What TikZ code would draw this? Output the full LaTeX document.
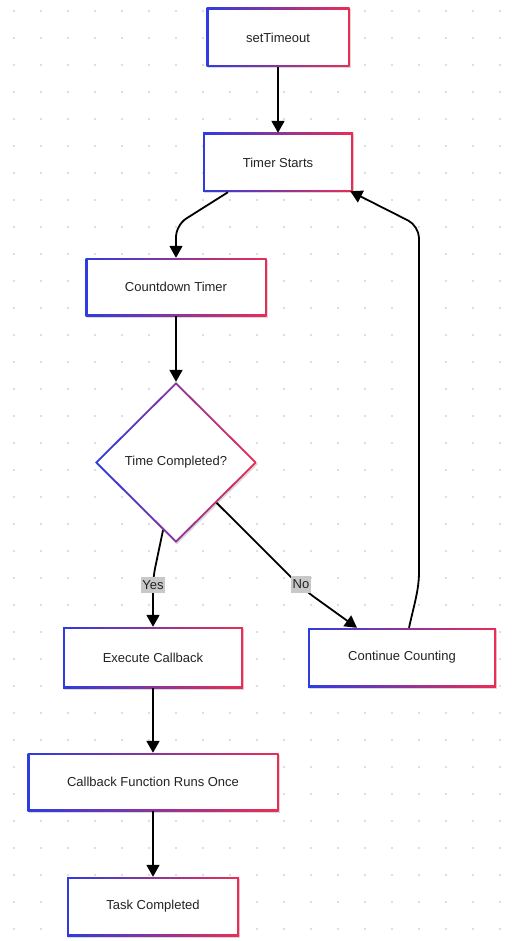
\documentclass[tikz,border=0pt]{standalone}
\usepackage{fontspec}
\setmainfont{Liberation Sans}
\usetikzlibrary{shapes.geometric,arrows.meta,calc,shadows}
\definecolor{cblue}{RGB}{45,60,225}
\definecolor{cred}{RGB}{235,45,85}
\definecolor{dotc}{RGB}{210,210,210}
\definecolor{txt}{RGB}{35,35,35}
\definecolor{lblbg}{RGB}{200,200,200}
\tikzset{
  nodefont/.style={text=txt, font=\fontsize{13pt}{15pt}\selectfont},
  shadowed/.style={drop shadow={shadow xshift=1pt, shadow yshift=-1.5pt, opacity=0.15, fill=black}},
  gradrect/.style={rectangle, inner sep=0pt, nodefont, shadowed,
    path picture={
      \shade[left color=cblue, right color=cred] (path picture bounding box.south west) rectangle (path picture bounding box.north east);
      \fill[white] ([shift={(2pt,2pt)}]path picture bounding box.south west) rectangle ([shift={(-2pt,-2pt)}]path picture bounding box.north east);
    }},
  graddiam/.style={diamond, inner sep=0pt, nodefont, shadowed,
    path picture={
      \shade[left color=cblue, right color=cred] (path picture bounding box.south west) rectangle (path picture bounding box.north east);
      \fill[white] ([yshift=-2.8pt]path picture bounding box.north) -- ([xshift=-2.8pt]path picture bounding box.east) -- ([yshift=2.8pt]path picture bounding box.south) -- ([xshift=2.8pt]path picture bounding box.west) -- cycle;
    }},
  arr/.style={draw=black, line width=1.8pt, -{Triangle[length=12pt,width=13pt]}},
  lbl/.style={fill=lblbg, nodefont, inner xsep=1.5pt, inner ysep=3.5pt},
}
\begin{document}
\begin{tikzpicture}[x=1pt,y=-1pt]
\useasboundingbox (0,0) rectangle (523,941);
\fill[white] (0,0) rectangle (523,941);
\foreach \i in {0,...,18}{\foreach \j in {0,...,34}{\fill[dotc] ({14+27*\i},{11+27*\j}) circle (1.2pt);}}

\node[gradrect, minimum width=143pt, minimum height=59pt] (start) at (278,37.5) {setTimeout};
\node[gradrect, minimum width=150pt, minimum height=59pt] (timer) at (278,162.5) {Timer Starts};
\node[gradrect, minimum width=181pt, minimum height=58pt] (count) at (176,287) {Countdown Timer};
\node[graddiam, minimum width=162pt, minimum height=161pt] (dec) at (176,462.5) {Time Completed?};
\node[gradrect, minimum width=180pt, minimum height=61pt] (exec) at (153,657.5) {Execute Callback};
\node[gradrect, minimum width=188pt, minimum height=59pt] (cont) at (402,657.5) {Continue Counting};
\node[gradrect, minimum width=251pt, minimum height=58pt] (runs) at (153,782) {Callback Function Runs Once};
\node[gradrect, minimum width=172pt, minimum height=59pt] (task) at (153,906.5) {Task Completed};

\draw[arr] (start.south) -- (timer.north);
\draw[arr, rounded corners=12pt] ([xshift=-50pt]timer.south) -- (count.north |- 0,225) -- (count.north);
\draw[arr] (count.south) -- (dec.north);
\draw[arr, rounded corners=10pt] ($(dec.south)!0.16!(dec.west)$) -- (exec.north |- 0,578) -- (exec.north);
\node[lbl] (yes) at (153,585) {Yes};
\draw[arr, rounded corners=15pt] ($(dec.south)!0.5!(dec.east)$) -- (303,589) -- ([xshift=-45pt]cont.north);
\node[lbl] (no) at (301,584.5) {No};
\draw[arr, rounded corners=12pt] ([xshift=7pt]cont.north) .. controls (414,605) and (419,590) .. (419,560) -- (419,226) -- ([shift={(-3pt,1pt)}]timer.south east);
\draw[arr] (exec.south) -- (runs.north);
\draw[arr] (runs.south) -- (task.north);
\end{tikzpicture}
\end{document}
